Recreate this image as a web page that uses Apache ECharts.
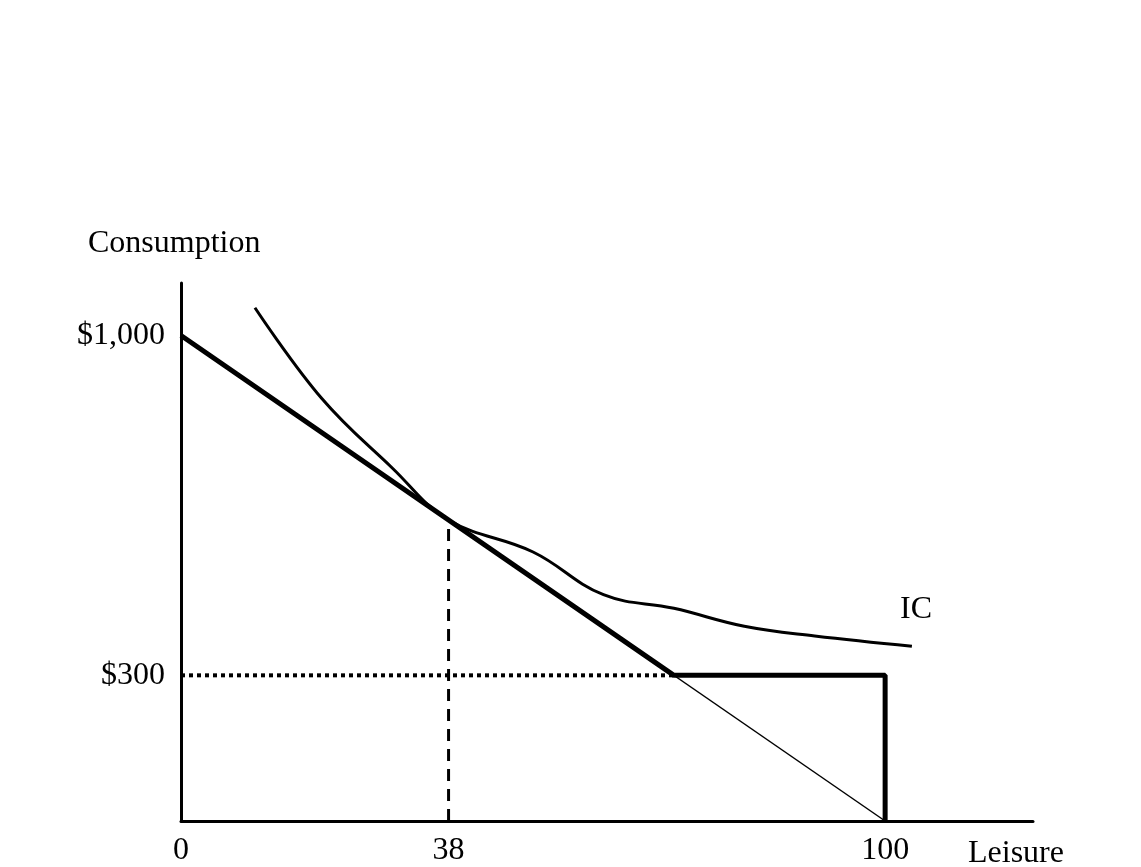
<!DOCTYPE html>
<html><head><meta charset="utf-8">
<script src="https://cdn.jsdelivr.net/npm/echarts@6/dist/echarts.min.js"></script>
<style>html,body{margin:0;background:#fff}#c{width:1141px;height:867px}</style>
</head><body><div id="c"></div>
<script>
// Leisure / consumption budget diagram
const budgetFull = [[0, 1000], [100, 0]];
const budgetKinked = [[0, 1000], [70, 300], [100, 300], [100, 0]];
const floorLine = [[0, 300], [70, 300]];
const optimum = [[38, 0], [38, 620]];
const icCurve = [[10.5, 1057], [20, 870], [30, 727], [38, 620], [50, 554], [60, 466], [70, 438], [80, 401], [90, 381], [103.8, 360]];
const xTicks = [0, 38, 100];
const yTicks = [300, 1000];
const yTickText = { 300: "$300", 1000: "$1,000" };

const font = "'Liberation Serif', 'DejaVu Serif', serif";
const chart = echarts.init(document.getElementById("c"), null, { renderer: "canvas" });
chart.setOption({
  animation: false,
  grid: { left: 181, right: 108, top: 283, bottom: 40 },
  xAxis: {
    type: "value", min: 0, max: 121,
    axisLine: { lineStyle: { color: "#000", width: 3 } },
    axisTick: { show: false }, splitLine: { show: false },
    axisLabel: { customValues: xTicks, color: "#000", fontFamily: font, fontSize: 32, margin: 14 },
  },
  yAxis: {
    type: "value", min: 0, max: 1108,
    axisLine: { lineStyle: { color: "#000", width: 3 } },
    axisTick: { show: false }, splitLine: { show: false },
    axisLabel: {
      customValues: yTicks, color: "#000", fontFamily: font, fontSize: 32, margin: 16,
      formatter: function (v) { return yTickText[v]; },
    },
  },
  graphic: [
    { type: "text", left: 88, top: 228, style: { text: "Consumption", font: "32px " + font, fill: "#000" } },
    { type: "text", left: 968, top: 838, style: { text: "Leisure", font: "32px " + font, fill: "#000" } },
    { type: "text", left: 900, top: 594, style: { text: "IC", font: "32px " + font, fill: "#000" } },
  ],
  series: [
    { type: "line", data: budgetFull, symbol: "none", lineStyle: { color: "#000", width: 1.5 } },
    { type: "line", data: budgetKinked, symbol: "none", lineStyle: { color: "#000", width: 5 } },
    { type: "line", data: floorLine, symbol: "none", lineStyle: { color: "#000", width: 4, type: [4, 4] } },
    { type: "line", data: optimum, symbol: "none", lineStyle: { color: "#000", width: 3, type: [12, 8] } },
    { type: "line", data: icCurve, smooth: 0.4, symbol: "none", lineStyle: { color: "#000", width: 3 } },
  ],
});
</script></body></html>
